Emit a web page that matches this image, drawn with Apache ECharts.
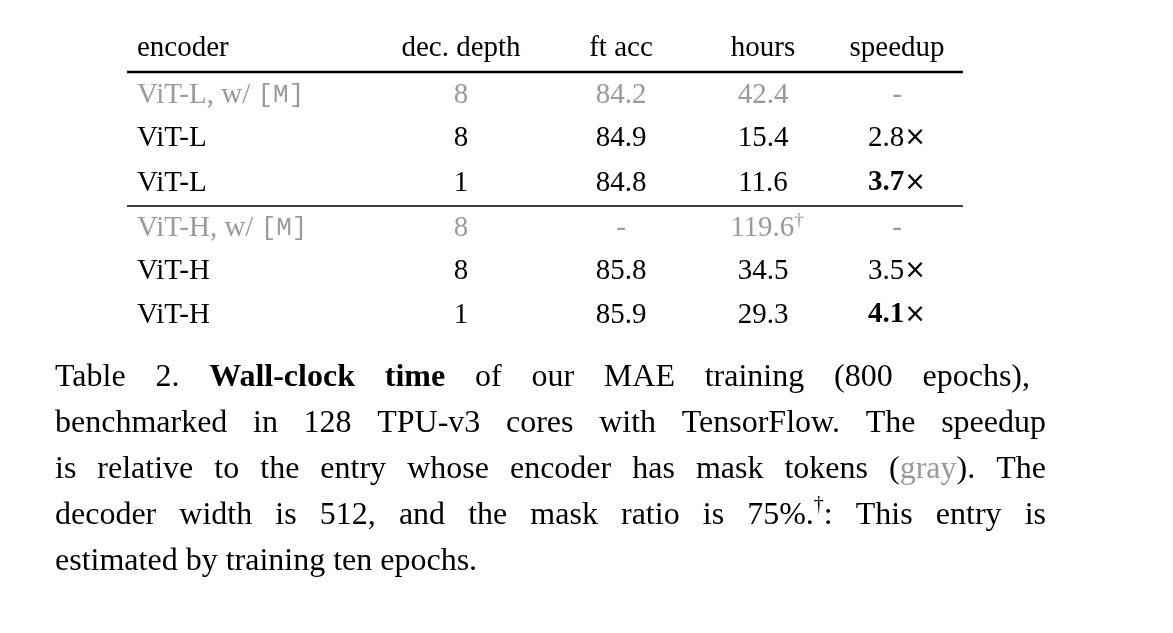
<!DOCTYPE html>
<html><head><meta charset="utf-8">
<script src="https://cdn.jsdelivr.net/npm/echarts@6/dist/echarts.min.js"></script>
<style>html,body{margin:0;background:#fff}#c{width:1173px;height:633px}</style>
</head><body><div id="c"></div>
<script>
const headers = ['encoder','dec. depth','ft acc','hours','speedup'];
const encoders = ['ViT-L, w/ ','ViT-L','ViT-L','ViT-H, w/ ','ViT-H','ViT-H'];
const maskTok = [true,false,false,true,false,false];
const decDepth = ['8','8','1','8','8','1'];
const ftAcc = ['84.2','84.9','84.8','-','85.8','85.9'];
const hours = ['42.4','15.4','11.6','119.6','34.5','29.3'];
const hoursDagger = [false,false,false,true,false,false];
const speedup = ['-','2.8','3.7','-','3.5','4.1'];
const speedupBold = [false,false,true,false,false,true];
const caption = [
  [['Table 2.','n'],['Wall-clock time','b'],['of our MAE training (800 epochs),','n']],
  [['benchmarked in 128 TPU-v3 cores with TensorFlow. The speedup','n']],
  [['is relative to the entry whose encoder has mask tokens (','n'],['gray','g',true],[').','n',true],['The','n']],
  [['decoder width is 512, and the mask ratio is 75%.','n'],['†','s'],[': This entry is','n',true]],
  [['estimated by training ten epochs.','n']]
];
const captionJustify = [true,true,true,true,false];
const captionWidth = [975,991,991,991,0];

const SERIF='"Liberation Serif","Times New Roman",serif';
const MONO='"Liberation Mono","DejaVu Sans Mono",monospace';
const GRAY='#9a9a9a';
const g=[];
const colX=[137,461,621,763,897];
const rowY=[95,138,183,228,271,315];
const FS=29;
headers.forEach((h,i)=>g.push({type:'text',style:{x:colX[i],y:48,text:h,font:FS+'px '+SERIF,fill:'#000',align:i?'center':'left',verticalAlign:'middle'}}));
g.push({type:'line',shape:{x1:127,y1:72,x2:963,y2:72},style:{stroke:'#000',lineWidth:2.4}});
g.push({type:'line',shape:{x1:127,y1:206,x2:963,y2:206},style:{stroke:'#000',lineWidth:1.3}});
const rich={m:{fontFamily:MONO,fontSize:26,fill:GRAY},b:{fontWeight:'bold',fontFamily:SERIF,fontSize:FS},x:{fontFamily:'"DejaVu Sans",sans-serif',fontSize:26}};
encoders.forEach((e,r)=>{
  const col=maskTok[r]?GRAY:'#000';
  const y=rowY[r];
  g.push({type:'text',style:{x:colX[0],y,text:e+(maskTok[r]?'{m|[M]}':''),rich,font:FS+'px '+SERIF,fill:col,align:'left',verticalAlign:'middle'}});
  g.push({type:'text',style:{x:colX[1],y,text:decDepth[r],font:FS+'px '+SERIF,fill:col,align:'center',verticalAlign:'middle'}});
  g.push({type:'text',style:{x:colX[2],y,text:ftAcc[r],font:FS+'px '+SERIF,fill:col,align:'center',verticalAlign:'middle'}});
  g.push({type:'text',style:{x:colX[3]+(hoursDagger[r]?4:0),y,text:hours[r]+(hoursDagger[r]?'{sup|†}':''),rich:{sup:{fontFamily:SERIF,fontSize:19,fill:col,padding:[0,0,14,0]}},font:FS+'px '+SERIF,fill:col,align:'center',verticalAlign:'middle'}});
  const s=speedup[r]==='-'?'-':(speedupBold[r]?'{b|'+speedup[r]+'}{x|×}':speedup[r]+'{x|×}');
  g.push({type:'text',style:{x:colX[4],y,text:s,rich,font:FS+'px '+SERIF,fill:col,align:'center',verticalAlign:'middle'}});
});
const ctx=document.createElement('canvas').getContext('2d');
const CFS=32, CX=55, capY=[378,424,470,516,562];
function fontFor(st){return (st==='b'?'bold ':'')+(st==='s'?20:CFS)+'px '+SERIF;}
caption.forEach((line,li)=>{
  const toks=[];
  line.forEach(([txt,st,glue])=>{
    txt.split(' ').filter(w=>w.length).forEach((w,k)=>toks.push({w,st,glue:(k===0&&glue)||(k===0&&st==='s')}));
  });
  ctx.font=CFS+'px '+SERIF; const sp=ctx.measureText(' ').width;
  toks.forEach(t=>{ctx.font=fontFor(t.st);t.wd=ctx.measureText(t.w).width;});
  const gaps=toks.filter((t,i)=>i>0&&!t.glue).length;
  const tot=toks.reduce((a,t)=>a+t.wd,0);
  const gap=captionJustify[li]&&gaps?(captionWidth[li]-tot)/gaps:sp;
  let x=CX;
  toks.forEach((t,i)=>{
    if(i>0&&!t.glue)x+=gap;
    g.push({type:'text',style:{x,y:capY[li]+(t.st==='s'?-11:0),text:t.w,font:fontFor(t.st),fill:t.st==='g'?GRAY:'#000',align:'left',verticalAlign:'middle'}});
    x+=t.wd;
  });
});
const chart=echarts.init(document.getElementById('c'));
chart.setOption({animation:false,backgroundColor:'#fff',graphic:g});
</script></body></html>
